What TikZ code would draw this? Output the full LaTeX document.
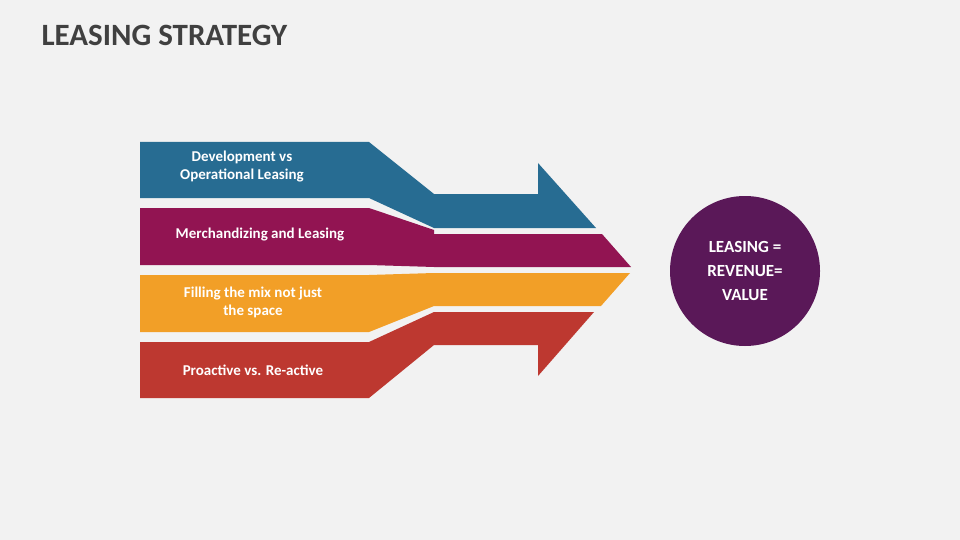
\documentclass[tikz,border=0pt]{standalone}
\usepackage{fontspec}
\setmainfont{Carlito}
\definecolor{cblue}{HTML}{276C92}
\definecolor{cmag}{HTML}{921452}
\definecolor{corange}{HTML}{F29F27}
\definecolor{cred}{HTML}{BD3830}
\definecolor{cpurple}{HTML}{5A1858}
\definecolor{bg}{HTML}{F2F2F2}
\definecolor{ttl}{HTML}{404040}
\begin{document}
\begin{tikzpicture}[x=1pt,y=-1pt,
  lbl/.style={text=white,font=\bfseries\fontsize{15}{18}\selectfont,align=center}]
\fill[bg] (0,0) rectangle (960,540);
\node[anchor=west,text=ttl,font=\bfseries\fontsize{31}{36}\selectfont] (title) at (38,35) {LEASING STRATEGY};
\fill[cblue] (140,142)--(369,142)--(434,194)--(538,194)--(538,163)--(596,228)--(434,228)--(369,198)--(140,198)--cycle;
\fill[cmag] (140,208)--(369,208)--(434,230)--(434,234)--(602,234)--(631,267)--(434,267)--(369,265)--(140,265)--cycle;
\fill[corange] (140,275)--(369,275)--(434,273)--(630,273)--(601,306)--(434,306)--(369,332)--(140,332)--cycle;
\fill[cred] (140,342)--(369,342)--(434,312)--(594,312)--(538,376)--(538,345)--(434,345)--(369,398)--(140,398)--cycle;
\node[lbl] (a) at (242,167) {Development vs\\Operational Leasing};
\node[lbl] (b) at (260,235) {Merchandizing and Leasing};
\node[lbl] (c) at (253,302) {Filling the mix not just\\the space};
\node[lbl] (d) at (253,370) {Proactive vs. Re-active};
\node[circle,fill=cpurple,minimum size=150pt,inner sep=0pt,text=white,align=center,
  font=\bfseries\fontsize{17}{24}\selectfont] (e) at (745,271) {LEASING =\\REVENUE=\\VALUE};
\end{tikzpicture}
\end{document}
